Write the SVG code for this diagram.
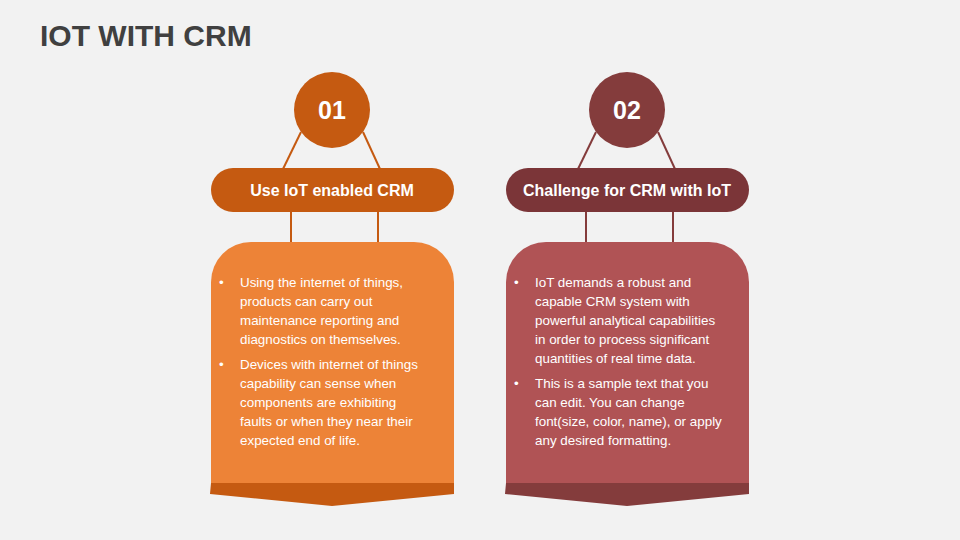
<svg xmlns="http://www.w3.org/2000/svg" width="960" height="540" viewBox="0 0 960 540">
<style>
text{font-family:"Liberation Sans",Arial,sans-serif;fill:#fff}
.t{font-size:30px;font-weight:bold;fill:#404040}
.n{font-size:25px;font-weight:bold;text-anchor:middle}
.h{font-size:16px;font-weight:bold;text-anchor:middle}
.b{font-size:13.4px}
.l1{stroke:#C55A11;stroke-width:2}
.l2{stroke:#843C3C;stroke-width:2}
</style>
<rect width="960" height="540" fill="#F2F2F2"/>
<text class="t" x="40" y="46">IOT WITH CRM</text>
<g id="connectors">
<line class="l1" x1="301" y1="132" x2="283" y2="169"/><line class="l1" x1="363" y1="132" x2="380" y2="169"/>
<line class="l1" x1="291" y1="211" x2="291" y2="243"/><line class="l1" x1="378" y1="211" x2="378" y2="243"/>
<line class="l2" x1="596" y1="132" x2="578" y2="169"/><line class="l2" x1="658" y1="132" x2="675" y2="169"/>
<line class="l2" x1="586" y1="211" x2="586" y2="243"/><line class="l2" x1="673" y1="211" x2="673" y2="243"/>
</g>
<g id="node1">
<circle cx="332" cy="110" r="38" fill="#C55A11"/><text class="n" x="332" y="119">01</text>
<rect x="211" y="168" width="243" height="44" rx="22" fill="#C55A11"/><text class="h" x="332" y="196">Use IoT enabled CRM</text>
<path d="M211 282a40 40 0 0 1 40-40h163a40 40 0 0 1 40 40v201H211z" fill="#ED8337"/>
<path d="M211 483h243v11l-122 12l-122-12z" fill="#C55A11"/>
<g class="b">
<text x="219" y="287">•</text><text x="240" y="287">Using the internet of things,</text>
<text x="240" y="306">products can carry out</text>
<text x="240" y="325">maintenance reporting and</text>
<text x="240" y="344">diagnostics on themselves.</text>
<text x="219" y="369">•</text><text x="240" y="369">Devices with internet of things</text>
<text x="240" y="388">capability can sense when</text>
<text x="240" y="407">components are exhibiting</text>
<text x="240" y="426">faults or when they near their</text>
<text x="240" y="445">expected end of life.</text>
</g>
</g>
<g id="node2">
<circle cx="627" cy="110" r="38" fill="#843C3C"/><text class="n" x="627" y="119">02</text>
<rect x="506" y="168" width="243" height="44" rx="22" fill="#7B3538"/><text class="h" x="627" y="196">Challenge for CRM with IoT</text>
<path d="M506 282a40 40 0 0 1 40-40h163a40 40 0 0 1 40 40v201H506z" fill="#B05355"/>
<path d="M506 483h243v11l-122 12l-122-12z" fill="#843C3C"/>
<g class="b">
<text x="514" y="287">•</text><text x="535" y="287">IoT demands a robust and</text>
<text x="535" y="306">capable CRM system with</text>
<text x="535" y="325">powerful analytical capabilities</text>
<text x="535" y="344">in order to process significant</text>
<text x="535" y="363">quantities of real time data.</text>
<text x="514" y="388">•</text><text x="535" y="388">This is a sample text that you</text>
<text x="535" y="407">can edit. You can change</text>
<text x="535" y="426">font(size, color, name), or apply</text>
<text x="535" y="445">any desired formatting.</text>
</g>
</g>
</svg>
